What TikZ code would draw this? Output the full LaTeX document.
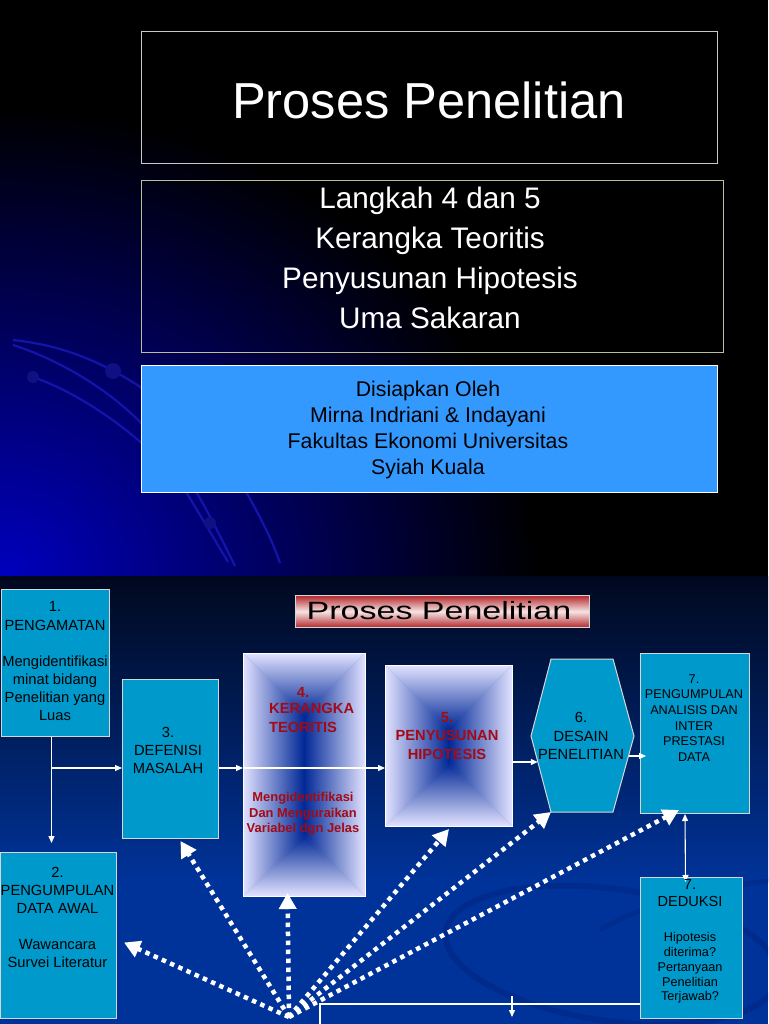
\documentclass[tikz,border=0pt]{standalone}
\usepackage{fontspec}
\usepackage{graphicx}
\setmainfont{Liberation Sans}
\usetikzlibrary{arrows.meta,calc}
\definecolor{cyanbox}{RGB}{0,153,204}
\definecolor{boxline}{RGB}{215,215,215}
\definecolor{lav}{RGB}{226,226,255}
\definecolor{pyrdk}{RGB}{0,40,150}
\definecolor{pyrmid}{RGB}{113,133,203}
\definecolor{redtxt}{RGB}{165,10,20}
\definecolor{navytop}{RGB}{0,8,30}
\definecolor{navybot}{RGB}{0,51,153}
\definecolor{swirl}{RGB}{20,20,170}
\definecolor{swirldot}{RGB}{16,16,130}
\definecolor{skyblue}{RGB}{51,153,255}
\definecolor{tanline}{RGB}{190,190,150}
\definecolor{titleline}{RGB}{200,200,200}
\definecolor{bannerred}{RGB}{178,40,44}
\definecolor{bannerlight}{RGB}{246,228,228}
\definecolor{bgswirl}{RGB}{0,38,130}
\definecolor{cornerblue}{RGB}{0,0,190}
\definecolor{glowmid}{RGB}{0,0,115}
\pgfdeclareradialshading{cornerglow}{\pgfpointorigin}{color(0bp)=(cornerblue); color(10bp)=(glowmid); color(25bp)=(black); color(50bp)=(black)}
\begin{document}
\begin{tikzpicture}[x=1pt,y=-1pt,
  frame/.style={line width=1pt, inner sep=0pt, anchor=north west},
  cbox/.style={frame, draw=boxline, fill=cyanbox},
  pbox/.style={frame, draw=white},
  txt/.style={inner sep=0pt, align=center, text=black},
  fa/.style={font=\fontsize{14.7pt}{18.2pt}\selectfont},
  fb/.style={font=\fontsize{12.7pt}{15.6pt}\selectfont},
  redbold/.style={inner sep=0pt, align=center, text=redtxt},
  thinarr/.style={draw=white, line width=1.1pt, -{Triangle[length=7pt,width=6pt]}},
  dblarr/.style={draw=white, line width=1.1pt, {Triangle[length=7pt,width=6pt]}-{Triangle[length=7pt,width=6pt]}},
  fanarr/.style={draw=white, line width=4.5pt, dash pattern=on 4.5pt off 4.5pt, -{Triangle[length=16pt,width=17pt]}},
  swirlline/.style={draw=swirl, line width=2.2pt}
]
\useasboundingbox (0,0) rectangle (768,1024);

% ---------- upper slide ----------
\fill[black] (0,0) rectangle (768,576);
\begin{scope}
  \clip (0,0) rectangle (768,576);
  \shade[shading=cornerglow] (0,576) ellipse (540 and 470);
  \draw[swirlline] (13,340) .. controls (60,345) and (100,360) .. (145,390);
  \draw[swirlline] (13,345) .. controls (60,360) and (110,390) .. (145,427);
  \draw[swirlline] (33,377) .. controls (70,390) and (110,415) .. (145,446);
  \draw[swirlline] (185,490) .. controls (200,515) and (215,540) .. (228,562);
  \draw[swirlline] (195,490) .. controls (210,515) and (222,540) .. (235,566);
  \draw[swirlline] (245,490) .. controls (262,520) and (272,540) .. (280,563);
  \fill[swirldot] (113,371) circle (8);
  \fill[swirldot] (33,377) circle (6);
  \fill[swirldot] (210,523) circle (6);
\end{scope}

\node[frame, draw=titleline, minimum width=576pt, minimum height=132pt] (title) at (141,31) {};
\node[inner sep=0pt, text=white, font=\fontsize{50.6pt}{60pt}\selectfont] (titletxt) at (429,100) {Proses Penelitian};

\node[frame, draw=tanline, minimum width=582pt, minimum height=172pt] (sub) at (141,180) {};
\node[inner sep=0pt, align=center, text=white, font=\fontsize{29.7pt}{40pt}\selectfont] (subtxt) at (430,258)
  {Langkah 4 dan 5\\Kerangka Teoritis\\Penyusunan Hipotesis\\Uma Sakaran};

\node[frame, draw=white, fill=skyblue, minimum width=576pt, minimum height=127pt] (prep) at (141,365) {};
\node[txt, font=\fontsize{21.3pt}{25.7pt}\selectfont] (preptxt) at (428,430)
  {Disiapkan Oleh\\Mirna Indriani \& Indayani\\Fakultas Ekonomi Universitas\\Syiah Kuala};

% ---------- lower slide ----------
\shade[top color=navytop, bottom color=navybot] (0,576) rectangle (768,880);
\fill[navybot] (0,880) rectangle (768,1024);
\begin{scope}
  \clip (0,576) rectangle (768,1024);
  \draw[bgswirl, line width=6pt, opacity=0.55, rotate around={-8:(612,955)}] (612,955) ellipse (168 and 66);
  \draw[bgswirl, line width=5pt, opacity=0.5] (600,930) .. controls (650,900) and (720,885) .. (780,880);
\end{scope}

% banner
\node[frame, draw=boxline, top color=bannerred, bottom color=bannerred, middle color=bannerlight,
      minimum width=294pt, minimum height=32pt] (banner) at (295,595) {};
\node[inner sep=0pt, text=black, font=\fontsize{25pt}{30pt}\selectfont] (bannertxt) at (439,610.5)
  {\scalebox{1.36}[1]{Proses Penelitian}};

% cyan boxes
\node[cbox, minimum width=108pt, minimum height=147pt] (b1) at (1,589) {};
\node[cbox, minimum width=116pt, minimum height=166pt] (b2) at (0,852) {};
\node[cbox, minimum width=96pt, minimum height=159pt] (b3) at (122,679) {};
\node[cbox, minimum width=109pt, minimum height=160pt] (b7) at (640,653) {};
\node[cbox, minimum width=102pt, minimum height=141pt] (bD) at (640,877) {};

% pyramid-shaded boxes
\fill[pyrmid] (243,653) rectangle (365,896);
\shade[top color=lav, bottom color=pyrdk] (243,653) -- (365,653) -- (304,714) -- cycle;
\shade[bottom color=lav, top color=pyrdk] (243,896) -- (365,896) -- (304,835) -- cycle;
\shade[left color=lav, right color=pyrdk] (243,653) -- (304,714) -- (304,835) -- (243,896) -- cycle;
\shade[right color=lav, left color=pyrdk] (365,653) -- (304,714) -- (304,835) -- (365,896) -- cycle;
\node[pbox, minimum width=122pt, minimum height=243pt] (b4) at (243,653) {};

\fill[pyrmid] (385,665) rectangle (512,826);
\shade[top color=lav, bottom color=pyrdk] (385,665) -- (512,665) -- (448.5,728.5) -- cycle;
\shade[bottom color=lav, top color=pyrdk] (385,826) -- (512,826) -- (448.5,762.5) -- cycle;
\shade[left color=lav, right color=pyrdk] (385,665) -- (448.5,728.5) -- (448.5,762.5) -- (385,826) -- cycle;
\shade[right color=lav, left color=pyrdk] (512,665) -- (448.5,728.5) -- (448.5,762.5) -- (512,826) -- cycle;
\node[pbox, minimum width=127pt, minimum height=161pt] (b5) at (385,665) {};

% hexagon
\draw[draw=boxline, line width=1pt, fill=cyanbox] (551,659) -- (613,659) -- (634,736) -- (613,812) -- (551,812) -- (531,736) -- cycle;
\coordinate (h6in) at (537.8,762);
\coordinate (h6out) at (628.5,756);
\coordinate (h6bl) at (551,812);

% thin connectors
\coordinate (j1) at (51,768);
\draw[thinarr] ([shift={(-4,0)}]b1.south) -- ([shift={(-7,-9)}]b2.north);
\draw[thinarr] (j1) -- (j1 -| b3.west);
\draw[thinarr] (j1 -| b3.east) -- (j1 -| b4.west);
\draw[thinarr] (j1 -| b4.west) -- (j1 -| b5.west);
\draw[thinarr] (b5.east |- h6in) -- (h6in);
\draw[thinarr] (h6out) -- ([shift={(6,0)}]h6out -| b7.west);
\draw[dblarr] ([shift={(-10,0)}]b7.south) -- ([shift={(-6,5)}]bD.north);
\coordinate (b8) at (320,1004);
\draw[white, line width=2pt] (bD.west |- b8) -- (b8) -- (320,1030);
\coordinate (b8a) at (512,996);
\coordinate (b8b) at (512,1017);
\draw[thinarr] (b8a) -- (b8b);

% dotted fan arrows
\coordinate (fan) at (289,1017);
\draw[fanarr] (fan) -- ([shift={(7,7)}]b2.east);
\draw[fanarr] (fan) -- ([shift={(10,2)}]b3.south);
\draw[fanarr] (fan) -- ([shift={(-17,-4)}]b4.south);
\draw[fanarr] (fan) -- ([shift={(0,2)}]b5.south);
\draw[fanarr] (fan) -- (h6bl);
\draw[fanarr] (fan) -- ([shift={(-16,-4)}]b7.south);

% texts
\node[txt, fa] (t1) at (55,661.5) {1.\\PENGAMATAN\\[18pt]Mengidentifikasi\\minat bidang\\Penelitian yang\\Luas};
\node[txt, fa] (t2) at (57.5,917.5) {2.\\PENGUMPULAN\\DATA AWAL\\[18pt]Wawancara\\Survei Literatur};
\node[txt, fa] (t3) at (168,750.5) {3.\\DEFENISI\\MASALAH};
\node[redbold, font=\bfseries\fontsize{14.7pt}{18.2pt}\selectfont] (t4a) at (303,692) {4.};
\node[redbold, align=left, anchor=west, font=\bfseries\fontsize{14.7pt}{18.2pt}\selectfont] (t4b) at (269,718) {KERANGKA\\TEORITIS};
\node[redbold, font=\bfseries\fontsize{12.9pt}{15.5pt}\selectfont] (t4c) at (303,814) {Mengidentifikasi\\Dan Menguraikan\\Variabel dgn Jelas};
\node[redbold, font=\bfseries\fontsize{14.7pt}{18.2pt}\selectfont] (t5) at (447,736) {5.\\PENYUSUNAN\\HIPOTESIS};
\node[txt, fa] (b6) at (581,736) {6.\\DESAIN\\PENELITIAN};
\node[txt, fb] (t7) at (694,718) {7.\\PENGUMPULAN\\ANALISIS DAN\\INTER\\PRESTASI\\DATA};
\node[txt, font=\fontsize{14.6pt}{16.5pt}\selectfont] (tD1) at (690,893) {7.\\DEDUKSI};
\node[txt, font=\fontsize{12.7pt}{14.8pt}\selectfont] (tD2) at (690,968) {Hipotesis\\diterima?\\Pertanyaan\\Penelitian\\Terjawab?};
\end{tikzpicture}
\end{document}
